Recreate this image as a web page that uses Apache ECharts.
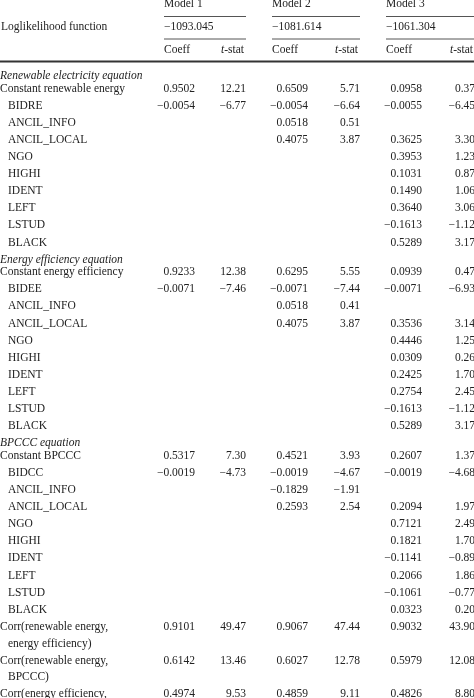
<!DOCTYPE html>
<html><head><meta charset="utf-8">
<script src="https://cdn.jsdelivr.net/npm/echarts@6/dist/echarts.min.js"></script>
<style>html,body{margin:0;padding:0;background:#fff}#c{width:474px;height:698px}</style>
</head><body><div id="c"></div>
<script>
const models = ['Model 1','Model 2','Model 3'];
const loglik = ['\u22121093.045','\u22121081.614','\u22121061.304'];
const vars = ['BIDRE','ANCIL_INFO','ANCIL_LOCAL','NGO','HIGHI','IDENT','LEFT','LSTUD','BLACK'];
const sections = ['Renewable electricity equation','Energy efficiency equation','BPCCC equation'];
const constants = ['Constant renewable energy','Constant energy efficiency','Constant BPCCC'];
const bidNames = ['BIDRE','BIDEE','BIDCC'];
const renew = [
 ['0.9502','12.21','0.6509','5.71','0.0958','0.37'],
 ['\u22120.0054','\u22126.77','\u22120.0054','\u22126.64','\u22120.0055','\u22126.45'],
 ['','','0.0518','0.51','',''],
 ['','','0.4075','3.87','0.3625','3.30'],
 ['','','','','0.3953','1.23'],
 ['','','','','0.1031','0.87'],
 ['','','','','0.1490','1.06'],
 ['','','','','0.3640','3.06'],
 ['','','','','\u22120.1613','\u22121.12'],
 ['','','','','0.5289','3.17']];
const effic = [
 ['0.9233','12.38','0.6295','5.55','0.0939','0.47'],
 ['\u22120.0071','\u22127.46','\u22120.0071','\u22127.44','\u22120.0071','\u22126.93'],
 ['','','0.0518','0.41','',''],
 ['','','0.4075','3.87','0.3536','3.14'],
 ['','','','','0.4446','1.25'],
 ['','','','','0.0309','0.26'],
 ['','','','','0.2425','1.70'],
 ['','','','','0.2754','2.45'],
 ['','','','','\u22120.1613','\u22121.12'],
 ['','','','','0.5289','3.17']];
const bpccc = [
 ['0.5317','7.30','0.4521','3.93','0.2607','1.37'],
 ['\u22120.0019','\u22124.73','\u22120.0019','\u22124.67','\u22120.0019','\u22124.68'],
 ['','','\u22120.1829','\u22121.91','',''],
 ['','','0.2593','2.54','0.2094','1.97'],
 ['','','','','0.7121','2.49'],
 ['','','','','0.1821','1.70'],
 ['','','','','\u22120.1141','\u22120.89'],
 ['','','','','0.2066','1.86'],
 ['','','','','\u22120.1061','\u22120.77'],
 ['','','','','0.0323','0.20']];
const corrLabels = [['Corr(renewable energy,','energy efficiency)'],['Corr(renewable energy,','BPCCC)'],['Corr(energy efficiency,','BPCCC)']];
const corrVals = [
 ['0.9101','49.47','0.9067','47.44','0.9032','43.90'],
 ['0.6142','13.46','0.6027','12.78','0.5979','12.08'],
 ['0.4974','9.53','0.4859','9.11','0.4826','8.80']];

const F = '11.5px "Liberation Serif", "DejaVu Serif", serif';
const FI = 'italic 11.5px "Liberation Serif", "DejaVu Serif", serif';
const COL = '#222';
const colRight = [195,246,308,360,422,475];
const modelLeft = [164,272,386];
const modelRight = [246,360,474];
const els = [];
function txt(x,y,s,align,font){ els.push({type:'text',x:x,y:y,style:{text:s,font:font||F,fill:COL,align:align||'left',verticalAlign:'middle'}}); }
function line(x1,y,x2,w,c){ els.push({type:'line',shape:{x1:x1,y1:y,x2:x2,y2:y},style:{stroke:c||'#444',lineWidth:w||1}}); }

for(let i=0;i<3;i++){
  txt(modelLeft[i],4,models[i]);
  line(modelLeft[i],16.5,modelRight[i],1,'#555');
  txt(modelLeft[i],27,loglik[i]);
  line(modelLeft[i],39,modelRight[i],1,'#555');
  txt(modelLeft[i],50,'Coeff');
  els.push({type:'text',x:colRight[2*i+1]-2,y:50,style:{rich:{i:{font:FI,fill:COL},n:{font:F,fill:COL}},text:'{i|t}{n|-stat}',align:'right',verticalAlign:'middle'}});
}
txt(1,27,'Loglikelihood function');
line(0,61.5,474,2.2,'#333');

const tables=[renew,effic,bpccc];
let y=76;
for(let s=0;s<3;s++){
  txt(0,y,sections[s],'left',FI);
  y+=12.6;
  const rows=tables[s];
  for(let r=0;r<rows.length;r++){
    const lab = r===0?constants[s]:(r===1?bidNames[s]:vars[r-1]);
    txt(r===0?0:8,y,lab);
    rows[r].forEach((v,k)=>{ if(v) txt(colRight[k],y,v,'right'); });
    y+=17.1;
  }
}
y=627;
for(let c=0;c<3;c++){
  txt(0,y,corrLabels[c][0]);
  txt(8,y+16.5,corrLabels[c][1]);
  corrVals[c].forEach((v,k)=>txt(colRight[k],y,v,'right'));
  y+=33.5;
}
const chart=echarts.init(document.getElementById('c'));
chart.setOption({animation:false,graphic:{elements:els}});
</script></body></html>
